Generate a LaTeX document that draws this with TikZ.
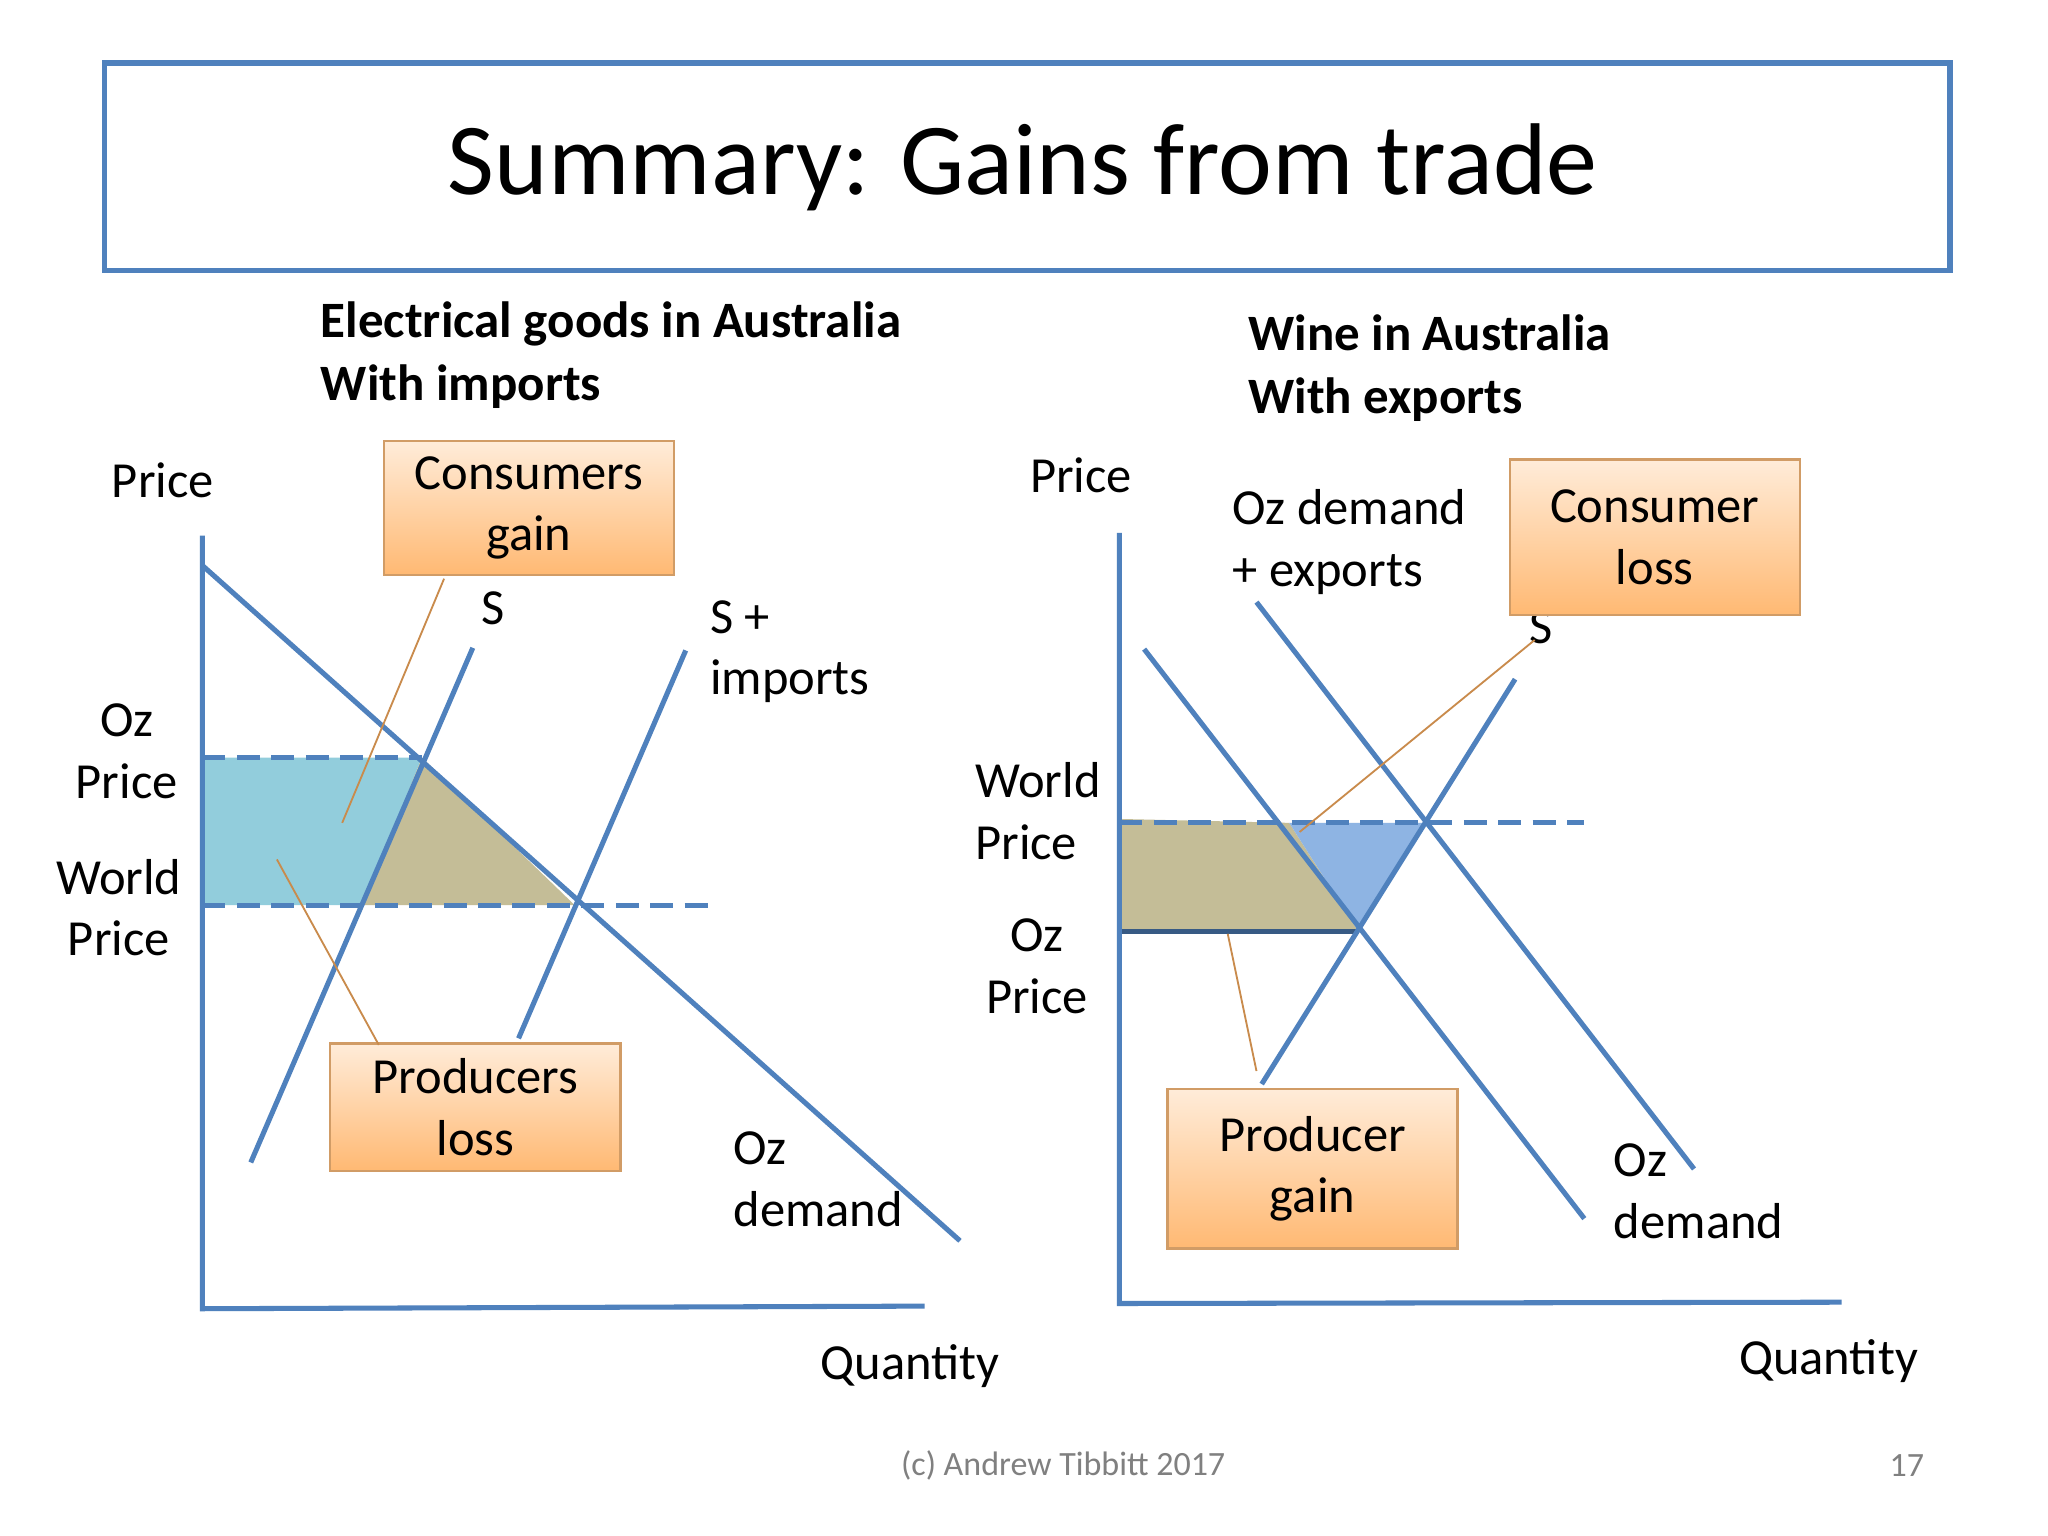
\documentclass[tikz,border=0pt]{standalone}
\usepackage{fontspec}
\setmainfont{Carlito}
\begin{document}
\begin{tikzpicture}[x=0.01cm,y=-0.01cm,
  ln/.style={draw=blu,line width=1.1pt},
  lbl/.style={font=\fontsize{11}{13.4}\selectfont,align=left,inner sep=0pt},
  box/.style={draw=orange!70!black!60,top color=orange!15,bottom color=orange!55,line width=0.5pt,font=\fontsize{11}{13.4}\selectfont,align=center},
  call/.style={draw=orange!70!black!70,line width=0.4pt},
  dsh/.style={draw=blu,line width=1.1pt,dash pattern=on 5pt off 2.5pt}]
\definecolor{blu}{RGB}{79,129,189}
\definecolor{cyanf}{RGB}{146,205,220}
\definecolor{tanf}{RGB}{196,189,151}
\definecolor{bluf}{RGB}{142,180,227}
\useasboundingbox (0,0) rectangle (1568,1176);
\fill[white] (0,0) rectangle (1568,1176);
% title
\node[draw=blu,line width=1.2pt,minimum width=14.12cm,minimum height=1.59cm,anchor=north west,inner sep=0pt] (tb) at (78,46) {};
\node[font=\fontsize{22.2}{26}\selectfont] (title) at (783,128) {Summary: Gains from trade};
\node[lbl,font=\bfseries\fontsize{11.1}{13.6}\selectfont,anchor=west] (st1) at (245,272) {Electrical goods in Australia\\With imports};
\node[lbl,font=\bfseries\fontsize{11.1}{13.6}\selectfont,anchor=west] (st2) at (955,282) {Wine in Australia\\With exports};
% left fills
\fill[cyanf] (155,580) -- (323,580) -- (278,693) -- (155,693) -- cycle;
\fill[tanf] (323,580) -- (440,693) -- (278,693) -- cycle;
\draw[dsh] (155,580) -- (323,580);
\draw[dsh] (155,693) -- (545,693);
% left axes
\coordinate (ly) at (155,410); \coordinate (lo) at (155,1002); \coordinate (lx) at (708,1000);
\draw[ln] (ly) -- (lo) -- (lx);
\coordinate (d1) at (155,433); \coordinate (d2) at (735,950);
\draw[ln] (d1) -- (d2);
\coordinate (s1) at (362,496); \coordinate (s2) at (192,890);
\draw[ln] (s1) -- (s2);
\coordinate (si1) at (525,498); \coordinate (si2) at (397,795);
\draw[ln] (si1) -- (si2);
\node[lbl,anchor=west] (lp) at (85,368) {Price};
\node[lbl,align=center] (lop) at (97,575) {Oz\\Price};
\node[lbl,align=center] (lwp) at (91,695) {World\\Price};
\node[lbl,anchor=west] (ls) at (368,466) {S};
\node[lbl,anchor=west] (lsi) at (543,499) {S +\\imports};
\node[lbl,anchor=west] (lod) at (561,903) {Oz\\demand};
\node[lbl] (lq) at (697,1046) {Quantity};
\node[box,minimum width=2.22cm,minimum height=0.98cm,anchor=north west] (cg) at (293,337) {Consumers\\gain};
\coordinate (cgp) at (262,630);
\draw[call] (cg.south west) ++(47,2) -- (cgp);
\node[box,minimum width=2.22cm,minimum height=0.97cm,anchor=north west] (pl) at (252,798) {Producers\\loss};
\coordinate (plp) at (212,658);
\draw[call] (pl.north west) ++(38,2) -- (plp);
% right fills
\fill[tanf] (857,627) -- (987,630) -- (1040,713) -- (857,713) -- cycle;
\fill[bluf] (987,630) -- (1090,630) -- (1040,713) -- cycle;
\draw[dsh] (857,630) -- (1213,630);
\draw[draw=blu!70!black,line width=1pt] (857,713) -- (1040,713);
\coordinate (ry) at (857,408); \coordinate (ro) at (857,998); \coordinate (rx) at (1410,997);
\draw[ln] (ry) -- (ro) -- (rx);
\coordinate (od1) at (876,497); \coordinate (od2) at (1213,933);
\draw[ln] (od1) -- (od2);
\coordinate (oe1) at (962,461); \coordinate (oe2) at (1297,895);
\draw[ln] (oe1) -- (oe2);
\coordinate (rs1) at (1160,520); \coordinate (rs2) at (966,830);
\draw[ln] (rs1) -- (rs2);
\node[lbl,anchor=west] (rp) at (788,364) {Price};
\node[lbl,anchor=west] (rode) at (943,415) {Oz demand\\+ exports};
\node[lbl,anchor=west] (rwp) at (746,621) {World\\Price};
\node[lbl,align=center] (rop) at (794,740) {Oz\\Price};
\node[lbl,anchor=west] (rod) at (1235,912) {Oz\\demand};
\node[lbl] (rq) at (1400,1042) {Quantity};
\node[lbl] (rsl) at (1180,480) {S};
\node[box,minimum width=2.22cm,minimum height=1.19cm,anchor=north west] (cl) at (1155,351) {Consumer\\loss};
\coordinate (clp) at (995,637);
\draw[call] (1175,490) -- (clp);
\node[box,minimum width=2.22cm,minimum height=1.22cm,anchor=north west] (pg) at (893,833) {Producer\\gain};
\coordinate (pgp) at (940,715);
\draw[call] (962,820) -- (pgp);
% footer
\node[font=\fontsize{7.4}{8}\selectfont,text=gray] (ft) at (814,1122) {(c) Andrew Tibbitt 2017};
\node[font=\fontsize{7.4}{8}\selectfont,text=gray] (pn) at (1460,1122) {17};
\end{tikzpicture}
\end{document}
